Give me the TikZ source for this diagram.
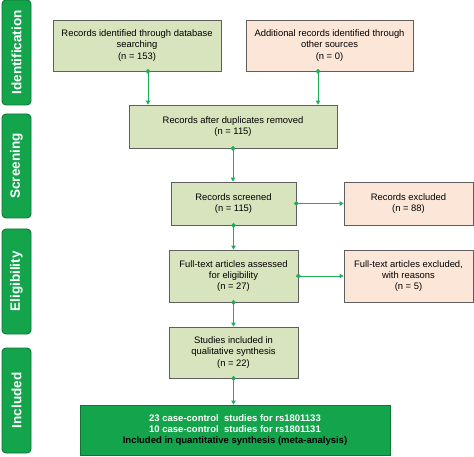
\documentclass[tikz,border=0pt]{standalone}
\usepackage{fontspec}
\setmainfont{Liberation Sans}
\usetikzlibrary{arrows.meta}
\definecolor{stagegreen}{HTML}{14A54C}
\definecolor{stageedge}{HTML}{0E7535}
\definecolor{boxolive}{HTML}{D8E4BD}
\definecolor{boxpeach}{HTML}{FCE6D8}
\definecolor{boxedge}{HTML}{5F5F5F}
\definecolor{flowgreen}{HTML}{1FAE58}
\tikzset{
  stage/.style={draw=stageedge, line width=0.9pt, fill=stagegreen, rounded corners=4pt,
    text=white, font=\fontsize{13.5}{15}\selectfont\bfseries, rotate=90,
    minimum height=29pt, inner sep=0pt},
  recbox/.style={draw=boxedge, line width=0.8pt, fill=boxolive, align=center,
    font=\fontsize{9.4}{11.4}\selectfont, inner sep=0pt},
  outbox/.style={recbox, fill=boxpeach},
  flow/.style={draw=flowgreen, line width=0.9pt, shorten <=-2.25pt,
    arrows={Circle[length=4.5pt]-Triangle[length=4pt,width=4.5pt]}}
}
\begin{document}
\begin{tikzpicture}[x=1pt, y=-1pt]
    \useasboundingbox (0,0) rectangle (474,457);
    % Below nodes are the stage labels on the left.
        \node[stage, minimum width=105pt] (ident) at (16.5,52.5) {Identification};
        \node[stage, minimum width=104pt] (screening) at (16.5,166) {Screening};
        \node[stage, minimum width=105pt] (elig) at (16.5,281.5) {Eligibility};
        \node[stage, minimum width=105pt] (incl) at (16.5,400.5) {Included};
    % The record boxes.
        \node[recbox, minimum width=168pt, minimum height=51pt] (dbrec) at (137,45.5)
            {Records identified through database\\searching\\(n = 153)};
        \node[outbox, minimum width=167pt, minimum height=51pt] (otherrec) at (329.5,45.5)
            {Additional records identified through\\other sources\\(n = 0)};
        \node[recbox, minimum width=208pt, minimum height=43pt] (dedup) at (233,126.5)
            {Records after duplicates removed\\(n = 115)};
        \node[recbox, minimum width=125pt, minimum height=43pt] (screened) at (233.5,203.5)
            {Records screened\\(n = 115)};
        \node[outbox, minimum width=129pt, minimum height=43pt] (excluded) at (408.5,203.5)
            {Records excluded\\(n = 88)};
        \node[recbox, minimum width=129pt, minimum height=52pt] (fulltext) at (233.5,276)
            {Full-text articles assessed\\for eligibility\\(n = 27)};
        \node[outbox, minimum width=129pt, minimum height=52pt] (fullexcl) at (408.5,276)
            {Full-text articles excluded,\\with reasons\\(n = 5)};
        \node[recbox, minimum width=129pt, minimum height=51pt] (qualit) at (233.5,352.5)
            {Studies included in\\qualitative synthesis\\(n = 22)};
        \node[recbox, draw=stageedge, fill=stagegreen, font=\fontsize{9.5}{11.4}\selectfont\bfseries,
            minimum width=310pt, minimum height=50pt] (quantit) at (235,430)
            {\textcolor{white}{23 case-control~ studies for rs1801133}\\
             \textcolor{white}{10 case-control~ studies for rs1801131}\\
             Included in quantitative synthesis (meta-analysis)};
    % Arrows between the boxes.
        \draw[flow] ([xshift=11pt]dbrec.south) -- ([xshift=11pt]dbrec.south |- dedup.north);
        \draw[flow] ([xshift=-11.5pt]otherrec.south) -- ([xshift=-11.5pt]otherrec.south |- dedup.north);
        \draw[flow] (dedup.south) -- (dedup.south |- screened.north);
        \draw[flow] (screened.south) -- (screened.south |- fulltext.north);
        \draw[flow] (screened.east) -- (excluded.west);
        \draw[flow] (fulltext.south) -- (fulltext.south |- qualit.north);
        \draw[flow] (fulltext.east) -- (fullexcl.west);
        \draw[flow] (qualit.south) -- (qualit.south |- quantit.north);
\end{tikzpicture}
\end{document}
